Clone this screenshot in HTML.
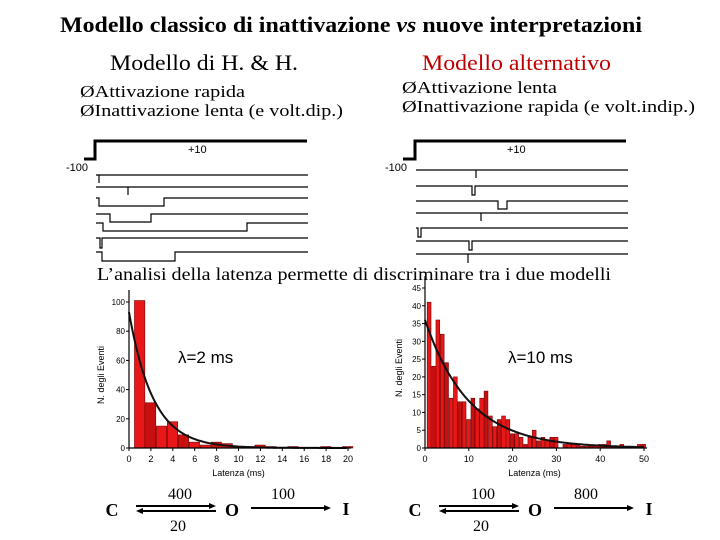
<!DOCTYPE html>
<html><head><meta charset="utf-8"><style>
body{margin:0;background:#fff}
svg{display:block}
.serif{font-family:"Liberation Serif",serif}
.sans{font-family:"Liberation Sans",sans-serif}
</style></head><body>
<svg id="s" width="720" height="540" viewBox="0 0 720 540">
<text class="serif" x="60" y="32" font-size="22" font-weight="bold" textLength="582" lengthAdjust="spacingAndGlyphs">Modello classico di inattivazione <tspan font-style="italic">vs</tspan> nuove interpretazioni</text>
<text class="serif" x="110" y="70" font-size="22" textLength="188" lengthAdjust="spacingAndGlyphs">Modello di H. &amp; H.</text>
<text class="serif" x="422" y="70" font-size="22" fill="#c00000" textLength="189" lengthAdjust="spacingAndGlyphs">Modello alternativo</text>
<text class="serif" x="80" y="97" font-size="17" textLength="165" lengthAdjust="spacingAndGlyphs">ØAttivazione rapida</text>
<text class="serif" x="80" y="116" font-size="17" textLength="263" lengthAdjust="spacingAndGlyphs">ØInattivazione lenta (e volt.dip.)</text>
<text class="serif" x="402" y="93" font-size="17" textLength="155" lengthAdjust="spacingAndGlyphs">ØAttivazione lenta</text>
<text class="serif" x="402" y="112" font-size="17" textLength="293" lengthAdjust="spacingAndGlyphs">ØInattivazione rapida (e volt.indip.)</text>
<g id="traces"></g>
<text class="sans" x="188" y="153" font-size="11">+10</text>
<text class="sans" x="66" y="171" font-size="11">-100</text>
<text class="sans" x="507" y="153" font-size="11">+10</text>
<text class="sans" x="385" y="171" font-size="11">-100</text>
<text class="serif" x="97" y="280" font-size="18" textLength="514" lengthAdjust="spacingAndGlyphs">L’analisi della latenza permette di discriminare tra i due modelli</text>
<g id="h1"></g>
<g id="h2"></g>
<text class="sans" x="178" y="363" font-size="17">λ=2 ms</text>
<text class="sans" x="508" y="363" font-size="17">λ=10 ms</text>
<g id="schemes"></g>
</svg>
<script>
const NS="http://www.w3.org/2000/svg";
const svg=document.getElementById('s');
function mk(tag,attrs,parent,text){const e=document.createElementNS(NS,tag);for(const k in attrs)e.setAttribute(k,attrs[k]);if(text!==undefined)e.textContent=text;parent.appendChild(e);return e;}

// Histogram data
const h1Counts=[101,31,15,18,9,4,2,4,3,1,1,2,1,0.5,1,0.5,0.5,1,0.5,1];
const h1XTicks=[0,2,4,6,8,10,12,14,16,18,20];
const h1YTicks=[0,20,40,60,80,100];
const h1Fit={A:93,tau:2.2};
const h2Counts=[41,23,36,32,24,14,20,13,13,8,14,11,14,16,9,6,8,9,8,4,4,3,1,3,5,2,3,2,3,3,0,1,1,1,1,0.5,0.5,0.5,0.5,1,1,2,0.5,0.5,1,0,0,0,1,1];
const h2XTicks=[0,10,20,30,40,50];
const h2YTicks=[0,5,10,15,20,25,30,35,40,45];
const h2Fit={A:36,tau:10};

function hist(g,counts,xt,yt,fit,box,ymax,xmax,ylab){
  const xs=v=>box.x0+(v/xmax)*(box.x1-box.x0);
  const ys=v=>box.y0-(v/ymax)*(box.y0-box.y1);
  counts.forEach((c,i)=>{
    const r=mk('rect',{x:xs(i+0.5),y:ys(c),width:xs(1)-xs(0)-0.6,height:box.y0-ys(c),fill:i%3==1?'#c81010':'#e81818',stroke:'#7a0000','stroke-width':0.6},g);
    
    
  });
  let d='';
  for(let t=0;t<=xmax;t+=xmax/200){d+=(d?'L':'M')+xs(t).toFixed(1)+','+ys(fit.A*Math.exp(-t/fit.tau)).toFixed(1);}
  const p=mk('path',{d:d,fill:'none',stroke:'#111','stroke-width':2},g);
  
  
  mk('line',{x1:box.x0,y1:box.y0,x2:box.x1+3,y2:box.y0,stroke:'#000','stroke-width':1.2},g);
  mk('line',{x1:box.x0,y1:box.y0,x2:box.x0,y2:box.y1-12,stroke:'#000','stroke-width':1.2},g);
  xt.forEach(v=>{mk('line',{x1:xs(v),y1:box.y0,x2:xs(v),y2:box.y0+3,stroke:'#000'},g);
    const t=mk('text',{x:xs(v),y:box.y0+14,'font-size':9,'text-anchor':'middle','font-family':'Liberation Sans,sans-serif'},g,v);
    });
  yt.forEach(v=>{mk('line',{x1:box.x0-3,y1:ys(v),x2:box.x0,y2:ys(v),stroke:'#000'},g);
    const t=mk('text',{x:box.x0-4,y:ys(v)+3,'font-size':8,'text-anchor':'end','font-family':'Liberation Sans,sans-serif'},g,v);
    });
  const xl=mk('text',{x:(box.x0+box.x1)/2,y:box.y0+28,'font-size':9,'text-anchor':'middle','font-family':'Liberation Sans,sans-serif'},g,'Latenza (ms)');
  
  const cy=(box.y0+box.y1)/2;
  const yl=mk('text',{x:ylab,y:cy,'font-size':9,'text-anchor':'middle','font-family':'Liberation Sans,sans-serif',transform:`rotate(-90 ${ylab} ${cy})`},g,'N. degli Eventi');
  
}
hist(document.getElementById('h1'),h1Counts,h1XTicks,h1YTicks,h1Fit,{x0:129,x1:348,y0:448,y1:302},100,20,104);
hist(document.getElementById('h2'),h2Counts,h2XTicks,h2YTicks,h2Fit,{x0:425,x1:644,y0:448,y1:288},45,50,402);

// traces
const tg=document.getElementById('traces');
function line(d,w){const p=mk('path',{d:d,fill:'none',stroke:'#000','stroke-width':w},tg);}
line('M84,159H95V141H307',3);
line('M403,159H415V141H626',3);
const L=[[175,'tick',99,183],[187,'tick',128,195],[198,'box',99,164,206],[214,'box',110,151,222],[223,'box',103,247,231],[238,'box',100,102,248],[252,'box',102,175,261]];
L.forEach(t=>{ if(t[1]=='tick') line(`M96,${t[0]}H308M${t[2]},${t[0]}V${t[3]}`,1.2); else line(`M96,${t[0]}H${t[2]}V${t[4]}H${t[3]}V${t[0]}H308`,1.2);});
const R=[[170,'tick',476,178],[186,'box',472,475,195],[201,'box',498,507,209],[213,'tick',481,221],[228,'box',418,421,237],[241,'box',469,472,250],[254,'tick',468,263]];
R.forEach(t=>{ if(t[1]=='tick') line(`M416,${t[0]}H628M${t[2]},${t[0]}V${t[3]}`,1.2); else line(`M416,${t[0]}H${t[2]}V${t[4]}H${t[3]}V${t[0]}H628`,1.2);});

// schemes
const sg=document.getElementById('schemes');
function txt(x,y,s,size,bold){const t=mk('text',{x:x,y:y,'font-size':size,'font-family':'Liberation Serif,serif','font-weight':bold?'bold':'normal','text-anchor':'middle'},sg,s);}
function arrowR(x1,x2,y){mk('line',{x1:x1,y1:y,x2:x2-5,y2:y,stroke:'#000','stroke-width':2},sg);mk('path',{d:`M${x2},${y}l-7,-3v6z`},sg);}
function arrowL(x1,x2,y){mk('line',{x1:x1+5,y1:y,x2:x2,y2:y,stroke:'#000','stroke-width':2},sg);mk('path',{d:`M${x1},${y}l7,-3v6z`},sg);}
function scheme(ox,k1,k2,k3){
  txt(ox,516,'C',18,true);
  arrowR(ox+24,ox+104,506);arrowL(ox+24,ox+104,511);
  txt(ox+68,499,k1,16);txt(ox+66,531,k2,16);
  txt(ox+120,516,'O',18,true);
  arrowR(ox+139,ox+219,508);
  txt(ox+171,499,k3,16);
  txt(ox+234,515,'I',18,true);
}
scheme(112,'400','20','100');
scheme(415,'100','20','800');
</script>
</body></html>
